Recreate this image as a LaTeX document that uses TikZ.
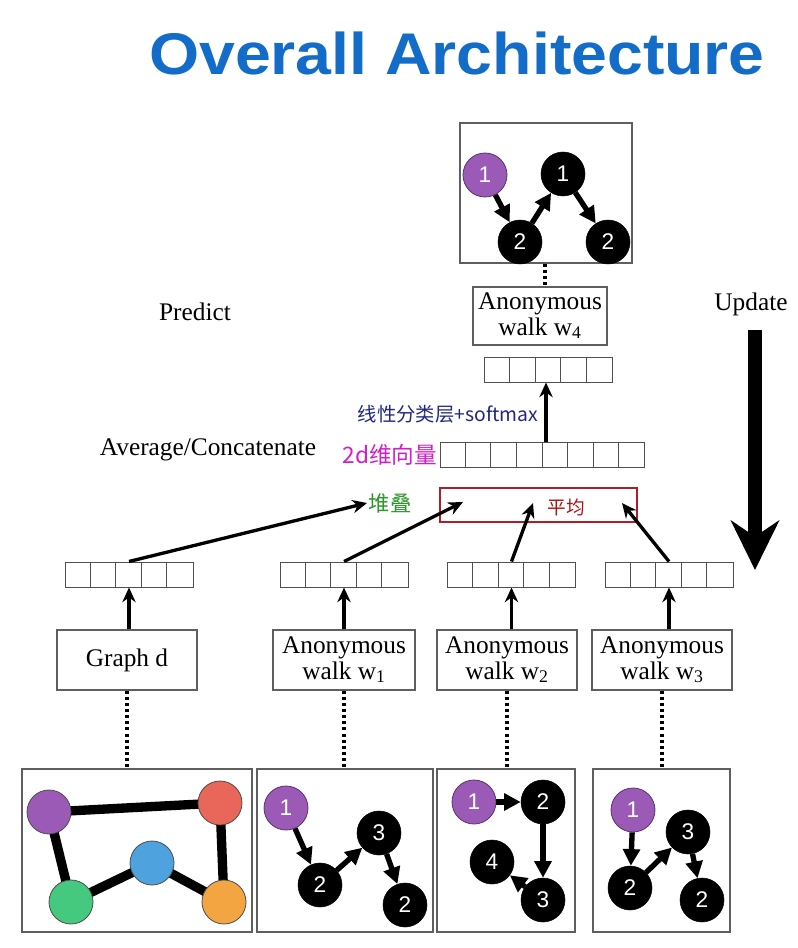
\documentclass[tikz,border=0pt]{standalone}
\usepackage{fontspec}
\setmainfont{Liberation Serif}
\newfontfamily\arialf{Liberation Sans}
\newfontfamily\cjkf{Noto Sans CJK SC}
\usetikzlibrary{arrows.meta,backgrounds}
\definecolor{titleblue}{RGB}{18,108,200}
\definecolor{boxgray}{RGB}{95,95,95}
\definecolor{cellgray}{RGB}{80,80,80}
\definecolor{npurple}{RGB}{155,90,182}
\definecolor{npurpled}{RGB}{90,50,110}
\definecolor{nred}{RGB}{232,103,90}
\definecolor{nblue}{RGB}{78,162,222}
\definecolor{ngreen}{RGB}{69,201,127}
\definecolor{norange}{RGB}{242,165,65}
\definecolor{cnavy}{RGB}{30,40,130}
\definecolor{cmagenta}{RGB}{210,30,200}
\definecolor{cgreen}{RGB}{40,150,40}
\definecolor{cdarkred}{RGB}{170,20,20}
\definecolor{boxred}{RGB}{175,30,40}
\newcommand{\vecrow}[5]{%
  \node[rowbox, minimum width=#4*19.2pt] (#1) at (#2,#3) {};
  \foreach \k in {1,...,#5}
    \draw[cellgray, line width=0.75pt] ([xshift=\k*19.2pt]#1.south west) -- ([xshift=\k*19.2pt]#1.north west);
}
\begin{document}
\begin{tikzpicture}[x=0.75pt,y=-0.75pt,
  box/.style={draw=boxgray, line width=0.9pt, inner sep=0pt, align=center, font=\fontsize{19}{19}\selectfont},
  rowbox/.style={draw=cellgray, line width=0.75pt, minimum height=18.75pt, inner sep=0pt},
  frame/.style={draw=boxgray, line width=0.9pt, inner sep=0pt},
  wn/.style={circle, fill=black, draw=black, minimum size=33pt, inner sep=0pt, text=white, font=\arialf\fontsize{17}{17}\selectfont},
  wp/.style={wn, fill=npurple, draw=npurpled, line width=0.6pt},
  gn/.style={circle, draw=black!70, line width=0.6pt, minimum size=33pt, inner sep=0pt},
  gedge/.style={line width=7pt},
  warr/.style={line width=4pt, -{Triangle[length=12.5pt,width=12.5pt]}},
  uparr/.style={line width=2.5pt, -{Stealth[length=11pt,width=10pt]}},
  dots/.style={line width=2.3pt, dash pattern=on 2.3pt off 2.3pt},
  lbl/.style={font=\fontsize{19}{19}\selectfont, inner sep=0pt}
]
\useasboundingbox (0,0) rectangle (798,948);

% title
\node[anchor=base, text=titleblue, inner sep=0pt] (title) at (457,75)
  {\scalebox{1.15}[1.05]{\arialf\bfseries\fontsize{42}{42}\selectfont Overall Architecture}};

% side labels
\node[lbl] (predict) at (195,312) {Predict};
\node[lbl] (avgcat) at (208,450) {Average/Concatenate};
\node[lbl] (update) at (751,304) {Update};

% big update arrow
\coordinate (up1) at (755,330);
\coordinate (up2) at (755,570);
\draw[line width=10.5pt, -{Stealth[length=37pt,width=36pt,inset=12pt]}] (up1) -- (up2);

% top walk box
\node[frame, minimum width=129pt, minimum height=105pt] (gt) at (546,193) {};
\node[wp] (t1) at (485,175) {1};
\node[wn] (t2) at (563,174) {1};
\node[wn] (t3) at (520,242) {2};
\node[wn] (t4) at (608,242) {2};
\draw[warr] (t1) -- (t3);
\draw[warr] (t3) -- (t2);
\draw[warr] (t2) -- (t4);

% w4 box and its vector
\node[box, minimum width=100.5pt, minimum height=43.5pt] (w4) at (540,316) {Anonymous\\walk w\textsubscript{4}};
\draw[dots] (gt.south -| 545,0) -- (w4.north -| 545,0);
\vecrow{v4}{548.5}{369.5}{5}{4}

% 2d vector
\vecrow{vavg}{542.5}{455}{8}{7}
\draw[uparr] (vavg.north -| 546,0) -- (v4.south -| 546,0);

% chinese annotations
\node[text=cnavy, font=\cjkf\fontsize{14.5}{14.5}\selectfont, inner sep=0pt] (lin) at (448,414) {线性分类层+\textit{softmax}};
\node[text=cmagenta, font=\cjkf\fontsize{17}{17}\selectfont, inner sep=0pt] (dim) at (390,455) {2d维向量};
\node[text=cgreen, font=\cjkf\fontsize{16}{16}\selectfont, inner sep=1pt] (dd) at (390,503) {堆叠};
\node[draw=boxred, line width=1.5pt, minimum width=147.75pt, minimum height=25.5pt, inner sep=0pt] (avg) at (538.5,505) {};
\node[text=cdarkred, font=\cjkf\fontsize{14}{14}\selectfont, inner sep=0pt] (pj) at (566,507) {平均};
\coordinate (in1) at (463,502);
\coordinate (in2) at (533,503);
\coordinate (in3) at (622,503);

% bottom vectors
\vecrow{va}{129}{574.5}{5}{4}
\vecrow{vb}{344}{574.5}{5}{4}
\vecrow{vc}{511.5}{574.5}{5}{4}
\vecrow{vd}{669}{574.5}{5}{4}

\draw[uparr] (va.north) -- (dd.west);
\draw[uparr] (vb.north) -- (in1);
\draw[uparr] (vc.north) -- (in2);
\draw[uparr] (vd.north) -- (in3);

% label boxes
\node[box, minimum width=105pt, minimum height=45pt] (gd) at (127,660) {Graph d};
\node[box, minimum width=106.5pt, minimum height=45pt] (w1) at (344,660) {Anonymous\\walk w\textsubscript{1}};
\node[box, minimum width=105pt, minimum height=45pt] (w2) at (507,660) {Anonymous\\walk w\textsubscript{2}};
\node[box, minimum width=105pt, minimum height=45pt] (w3) at (662,660) {Anonymous\\walk w\textsubscript{3}};

\draw[uparr] (va.south |- gd.north) -- (va.south);
\draw[uparr] (vb.south |- w1.north) -- (vb.south);
\draw[uparr] (vc.south |- w2.north) -- (vc.south);
\draw[uparr] (vd.south |- w3.north) -- (vd.south);

% bottom frames
\node[frame, minimum width=172.5pt, minimum height=122.25pt] (g1) at (137,850.5) {};
\node[frame, minimum width=132pt, minimum height=122.25pt] (g2) at (345,850.5) {};
\node[frame, minimum width=103.5pt, minimum height=122.25pt] (g3) at (506,850.5) {};
\node[frame, minimum width=102.75pt, minimum height=122.25pt] (g4) at (661.5,850.5) {};

\draw[dots] (gd.south) -- (gd.south |- g1.north);
\draw[dots] (w1.south) -- (w1.south |- g2.north);
\draw[dots] (w2.south) -- (w2.south |- g3.north);
\draw[dots] (w3.south) -- (w3.south |- g4.north);

% graph d
\node[gn, fill=npurple] (p) at (49,812) {};
\node[gn, fill=nred] (r) at (220,803) {};
\node[gn, fill=nblue] (b) at (152,863) {};
\node[gn, fill=ngreen] (g) at (71,902) {};
\node[gn, fill=norange] (o) at (224,902) {};
\begin{pgfonlayer}{background}
\draw[gedge] (p.center) -- (r.center);
\draw[gedge] (p.center) -- (g.center);
\draw[gedge] (g.center) -- (b.center);
\draw[gedge] (b.center) -- (o.center);
\draw[gedge] (r.center) -- (o.center);
\end{pgfonlayer}

% walk w1
\node[wp] (a1) at (286,808) {1};
\node[wn] (a2) at (320,885) {2};
\node[wn] (a3) at (379,833) {3};
\node[wn] (a4) at (405,905) {2};
\draw[warr] (a1) -- (a2);
\draw[warr] (a2) -- (a3);
\draw[warr] (a3) -- (a4);

% walk w2
\node[wp] (b1) at (474,802) {1};
\node[wn] (b2) at (543,802) {2};
\node[wn] (b4) at (492,862) {4};
\node[wn] (b3) at (543,900) {3};
\draw[warr] (b1) -- (b2);
\draw[warr] (b2) -- (b3);
\draw[warr] (b3) -- (b4);

% walk w3
\node[wp] (c1) at (633,810) {1};
\node[wn] (c2) at (630,888) {2};
\node[wn] (c3) at (688,832) {3};
\node[wn] (c4) at (702,900) {2};
\draw[warr] (c1) -- (c2);
\draw[warr] (c2) -- (c3);
\draw[warr] (c3) -- (c4);
\end{tikzpicture}
\end{document}
